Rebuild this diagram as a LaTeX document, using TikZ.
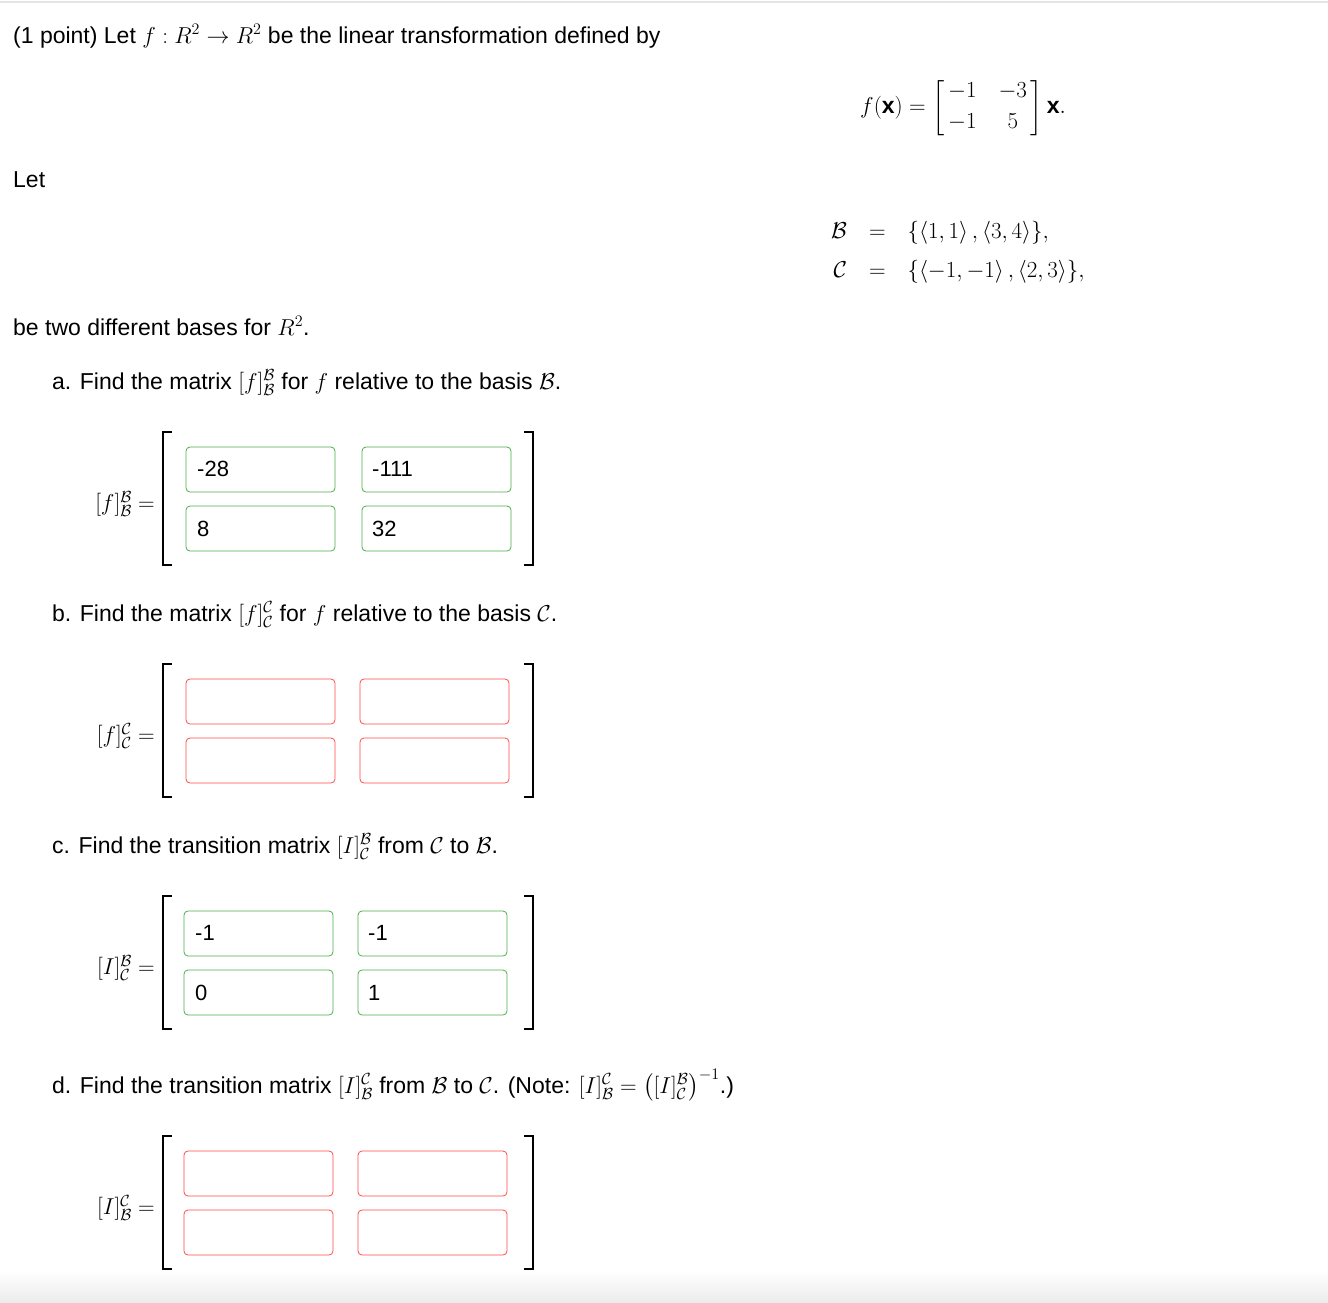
\RequirePackage{fix-cm}
\documentclass[tikz,border=0pt]{standalone}
\usepackage{amsmath,amssymb}
\usepackage{fontspec}
\setmainfont{Liberation Sans}
\begin{document}
\begin{tikzpicture}[x=1pt,y=-1pt,
  txt/.style={anchor=base west,inner sep=0pt,font=\fontsize{23}{27}\selectfont},
  okbox/.style={draw=green!55!black!70,line width=0.8pt,rounded corners=4pt,fill=white},
  badbox/.style={draw=red!70,line width=0.8pt,rounded corners=4pt,fill=white},
  brk/.style={line width=1.6pt},
  val/.style={anchor=west,inner sep=0pt,font=\fontsize{22}{26}\selectfont}]
\useasboundingbox (0,0) rectangle (1328,1302);
\fill[white] (0,0) rectangle (1328,1302);
\draw[gray!20,line width=2pt] (0,2) -- (1328,2);
\shade[top color=white,bottom color=gray!15] (0,1270) rectangle (1328,1302);
\node[txt] (t1) at (13,43) {(1 point) Let $f:R^2\to R^2$ be the linear transformation defined by};
\node[anchor=west,inner sep=0pt,font=\fontsize{23}{27}\selectfont] (fx) at (860,108) {$f(\mathbf{x})=\left[\begin{array}{@{\,}c@{\hspace{22pt}}c@{\,}}-1&-3\\[4pt]-1&5\end{array}\right]\mathbf{x}.$};
\node[txt] (let) at (13,187) {Let};
\node[anchor=west,inner sep=0pt,font=\fontsize{23}{27}\selectfont] (bases) at (826,253) {$\begin{array}{r@{\hspace{22pt}}c@{\hspace{22pt}}l}\mathcal{B}&=&\{\langle1,1\rangle\,,\langle3,4\rangle\},\\[12pt]\mathcal{C}&=&\{\langle-1,-1\rangle\,,\langle2,3\rangle\},\end{array}$};
\node[txt] (two) at (13,335) {be two different bases for $R^2$.};
\node[txt] (qa) at (52,389) {a. Find the matrix $[f]^{\mathcal B}_{\mathcal B}$ for $f$ relative to the basis $\mathcal B$.};
\node[txt] (qb) at (52,621) {b. Find the matrix $[f]^{\mathcal C}_{\mathcal C}$ for $f$ relative to the basis $\mathcal C$.};
\node[txt] (qc) at (52,853) {c. Find the transition matrix $[I]^{\mathcal B}_{\mathcal C}$ from $\mathcal C$ to $\mathcal B$.};
\node[txt] (qd) at (52,1093) {d. Find the transition matrix $[I]^{\mathcal C}_{\mathcal B}$ from $\mathcal B$ to $\mathcal C$. (Note: $[I]^{\mathcal C}_{\mathcal B}=\big([I]^{\mathcal B}_{\mathcal C}\big)^{-1}$.)};
\foreach \top/\lab/\sty/\xa/\xb/\va/\vb/\vc/\vd/\nm in {
 432/{$[f]^{\mathcal B}_{\mathcal B}=$}/okbox/186/362/-28/-111/8/32/a,
 664/{$[f]^{\mathcal C}_{\mathcal C}=$}/badbox/186/360/{}/{}/{}/{}/b,
 896/{$[I]^{\mathcal B}_{\mathcal C}=$}/okbox/184/358/-1/-1/0/1/c,
 1136/{$[I]^{\mathcal C}_{\mathcal B}=$}/badbox/184/358/{}/{}/{}/{}/d}{
  \draw[brk] (172,\top) -- (163,\top) -- (163,\top+133) -- (172,\top+133);
  \draw[brk] (524,\top) -- (533,\top) -- (533,\top+133) -- (524,\top+133);
  \node[anchor=east,inner sep=0pt,font=\fontsize{23}{27}\selectfont] (l\nm) at (155,\top+72) {\lab};
  \draw[\sty] (\xa,\top+15) rectangle (\xa+149,\top+60);
  \draw[\sty] (\xb,\top+15) rectangle (\xb+149,\top+60);
  \draw[\sty] (\xa,\top+74) rectangle (\xa+149,\top+119);
  \draw[\sty] (\xb,\top+74) rectangle (\xb+149,\top+119);
  \node[val] (v1\nm) at (\xa+11,\top+37) {\va};
  \node[val] (v2\nm) at (\xb+10,\top+37) {\vb};
  \node[val] (v3\nm) at (\xa+11,\top+97) {\vc};
  \node[val] (v4\nm) at (\xb+10,\top+97) {\vd};
}
\end{tikzpicture}
\end{document}
